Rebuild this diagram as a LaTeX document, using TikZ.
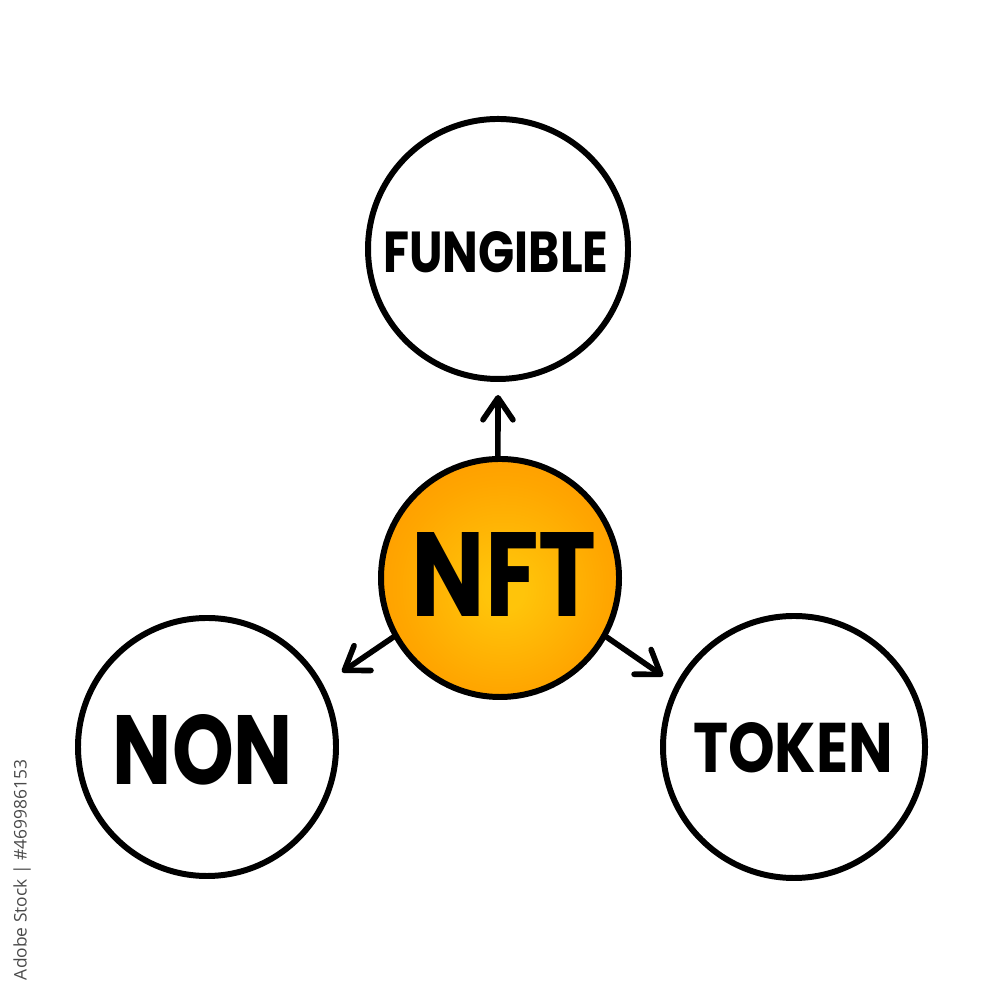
\documentclass[tikz,border=0pt]{standalone}
\usepackage{fontspec}
\setmainfont{Poppins}
\newfontfamily\wmfont{Open Sans}
\usepackage{graphicx}
\usetikzlibrary{arrows.meta}
\definecolor{nftin}{HTML}{FFC40A}
\definecolor{nftmid}{HTML}{FFA600}
\definecolor{nftout}{HTML}{FF8E00}
\definecolor{wmgray}{HTML}{4A4A4A}
\pgfdeclareradialshading{nftshade}{\pgfpoint{1bp}{-3bp}}{color(0bp)=(nftin); color(4bp)=(nftin); color(22bp)=(nftmid); color(40bp)=(nftout); color(50bp)=(nftout)}
\newcommand{\fitlabel}[3]{\resizebox{#1}{#2}{\bfseries #3}}
\tikzset{
  ring/.style={circle, draw=black, line width=1.7pt, inner sep=0pt, minimum size=#1},
  link/.style={line width=1.6pt, line cap=round, -{Straight Barb[length=2.2mm, width=3mm, line width=1.6pt, round]}},
}
\begin{document}
\begin{tikzpicture}
\useasboundingbox (0,0) rectangle (10,10);
\fill[white] (0,0) rectangle (10,10);

% circles
\node[ring=2.60cm, fill=white] (fung) at (4.98,7.51) {};
\node[ring=2.38cm, shading=nftshade] (nft) at (5.00,4.22) {};
\node[ring=2.58cm, fill=white] (non) at (2.07,2.53) {};
\node[ring=2.62cm, fill=white] (token) at (7.94,2.53) {};

% labels
\node[inner sep=0pt] (lfung) at (4.96,7.48) {\fitlabel{2.25cm}{0.41cm}{FUNGIBLE}};
\node[inner sep=0pt] (lnft) at (5.04,4.25) {\fitlabel{1.85cm}{0.84cm}{NFT}};
\node[inner sep=0pt] (lnon) at (2.03,2.50) {\fitlabel{1.80cm}{0.70cm}{NON}};
\node[inner sep=0pt] (ltoken) at (7.93,2.52) {\fitlabel{2.00cm}{0.50cm}{TOKEN}};

% arrow ends
\coordinate (tipF) at (4.98,6.05);
\coordinate (tipN) at (3.42,3.28);
\coordinate (tipT) at (6.63,3.24);

\draw[link] (nft.91) -- (tipF);
\draw[link] (nft.209) -- (tipN);
\draw[link] (nft.331) -- (tipT);

% side credit
\node[rotate=90, inner sep=0pt, text=wmgray] (credit) at (0.22,1.30) {\resizebox{2.2cm}{!}{\wmfont Adobe Stock | \#469986153}};
\end{tikzpicture}
\end{document}
